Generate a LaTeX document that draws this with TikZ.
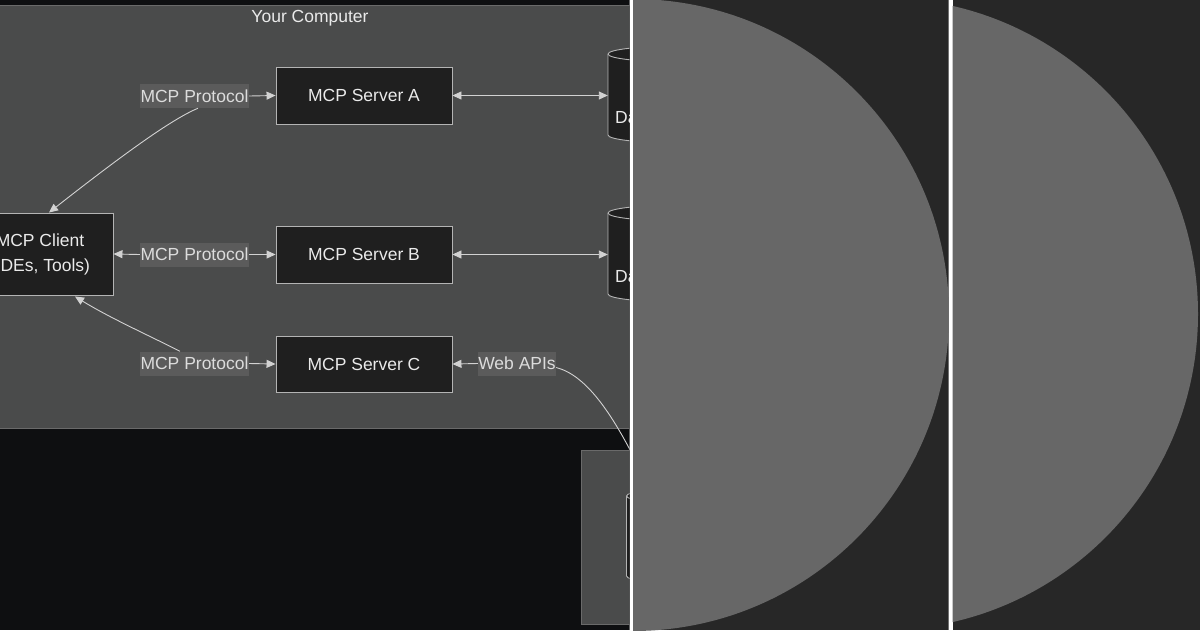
\documentclass[tikz,border=0pt]{standalone}
\usepackage{fontspec}
\setmainfont{Liberation Sans}
\usetikzlibrary{arrows.meta}
\definecolor{bgdark}{HTML}{0E0F11}
\definecolor{subfill}{HTML}{4A4B4B}
\definecolor{subline}{HTML}{6A6A6A}
\definecolor{nodefill}{HTML}{1F1F1F}
\definecolor{nodeline}{HTML}{B4B4B4}
\definecolor{txt}{HTML}{EAEAEA}
\definecolor{lblfill}{HTML}{5B5B5B}
\definecolor{lbltxt}{HTML}{DCDCDC}
\definecolor{conncol}{HTML}{D2D2D2}
\definecolor{paneldark}{HTML}{272727}
\definecolor{disc}{HTML}{676767}
\tikzset{
  srvbox/.style={draw=nodeline, line width=0.9pt, fill=nodefill, text=txt, minimum width=176pt, minimum height=57pt, inner sep=0pt, font=\fontsize{17.5}{25}\selectfont},
  lblbox/.style={fill=lblfill, text=lbltxt, minimum height=24pt, inner sep=0pt, font=\fontsize{17.5}{20}\selectfont},
  conn/.style={draw=conncol, line width=0.9pt, -{Triangle[length=9pt,width=8pt]}},
  conntwo/.style={draw=conncol, line width=0.9pt, {Triangle[length=9pt,width=8pt]}-{Triangle[length=9pt,width=8pt]}},
  cyl/.style={draw=nodeline, line width=0.9pt, fill=nodefill},
}
\begin{document}
\begin{tikzpicture}[x=1pt, y=-1pt]
\useasboundingbox (0,0) rectangle (1200,630);
% ---------- left panel ----------
\begin{scope}
\clip (0,0) rectangle (629.5,630);
\fill[bgdark] (0,0) rectangle (629.5,630);
\draw[subline, fill=subfill, line width=0.9pt] (-10,5.5) rectangle (700,428.5);
\node[text=txt, font=\fontsize{17.5}{20}\selectfont] (title) at (310,18) {Your Computer};
% bottom subgraph
\draw[subline, fill=subfill, line width=0.9pt] (581.5,450.5) rectangle (700,624);
% nodes
\node[srvbox] (sa) at (364,95.5) {MCP Server A};
\node[srvbox] (sb) at (364,254.5) {MCP Server B};
\node[srvbox, minimum height=56pt] (sc) at (364,364) {MCP Server C};
\node[srvbox, minimum width=146pt, minimum height=82pt, align=center] (client) at (40,254) {MCP Client\\(IDEs, Tools)};
\node[lblbox, minimum width=109pt] (l1) at (194.5,96) {MCP Protocol};
\node[lblbox, minimum width=109pt] (l2) at (194.5,254.5) {MCP Protocol};
\node[lblbox, minimum width=109pt] (l3) at (194.5,363.5) {MCP Protocol};
\node[lblbox, minimum width=78pt] (web) at (517,363.5) {Web APIs};
% databases
\draw[cyl] (608,54) -- (608,135) arc[start angle=180, end angle=0, x radius=70, y radius=8] -- (748,54) arc[start angle=0, end angle=-180, x radius=70, y radius=8] -- cycle;
\draw[cyl, fill=none] (608,54) arc[start angle=180, end angle=0, x radius=70, y radius=8];
\node[minimum width=140pt, minimum height=97pt, inner sep=0pt] (db1) at (678,94.5) {};
\node[anchor=west, text=txt, font=\fontsize{17.5}{20}\selectfont, inner sep=0pt] (db1t) at (615,118) {Da};
\draw[cyl] (608,213) -- (608,294) arc[start angle=180, end angle=0, x radius=70, y radius=8] -- (748,213) arc[start angle=0, end angle=-180, x radius=70, y radius=8] -- cycle;
\draw[cyl, fill=none] (608,213) arc[start angle=180, end angle=0, x radius=70, y radius=8];
\node[minimum width=140pt, minimum height=97pt, inner sep=0pt] (db2) at (678,254) {};
\node[anchor=west, text=txt, font=\fontsize{17.5}{20}\selectfont, inner sep=0pt] (db2t) at (615,277) {Da};
\draw[cyl] (626.5,496) -- (626.5,576) arc[start angle=180, end angle=0, x radius=70, y radius=8] -- (766.5,496) arc[start angle=0, end angle=-180, x radius=70, y radius=8] -- cycle;
\draw[cyl, fill=none] (626.5,496) arc[start angle=180, end angle=0, x radius=70, y radius=8];
\node[minimum width=140pt, minimum height=96pt, inner sep=0pt] (db3) at (696.5,536) {};
\coordinate (webend) at (645,480);
% connectors
\draw[conn] (l1.east) -- (sa.west);
\draw[conn] ([xshift=3.5pt]l1.south) .. controls (175,118) and (135,145) .. ([xshift=9pt]client.north);
\draw[conntwo] (sa.east) -- (sa.east -| db1.west);
\draw[conn] (l2.west) -- (client.east);
\draw[conn] (l2.east) -- (sb.west);
\draw[conntwo] (sb.east) -- (sb.east -| db2.west);
\draw[conn] ([xshift=-14.5pt]l3.north) .. controls (150,336) and (110,318) .. ([xshift=35pt,yshift=-1pt]client.south);
\draw[conn] (l3.east) -- (sc.west);
\draw[conn] (web.west) -- (sc.east);
\draw[draw=conncol, line width=0.9pt] ([yshift=-4pt]web.east) .. controls (585,375) and (612,410) .. (webend);
\end{scope}
% ---------- stripes ----------
\fill[white] (629.5,0) rectangle (633,630);
\fill[white] (948.5,0) rectangle (952.5,630);
% ---------- panel 2 ----------
\begin{scope}
\clip (633,0) rectangle (948.5,630);
\fill[paneldark] (633,0) rectangle (948.5,630);
\fill[disc] (633,315) circle[radius=316];
\end{scope}
% ---------- panel 3 ----------
\begin{scope}
\clip (952.5,0) rectangle (1200,630);
\fill[paneldark] (952.5,0) rectangle (1200,630);
\fill[disc] (882,314) circle[radius=316];
\end{scope}
\end{tikzpicture}
\end{document}
